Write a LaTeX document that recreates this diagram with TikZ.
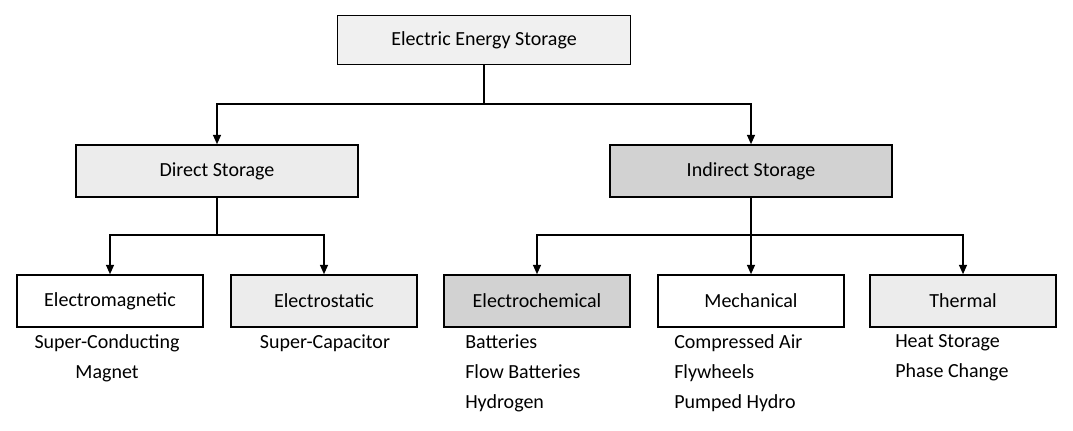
\documentclass[tikz,border=0pt]{standalone}
\usepackage{fontspec}
\setmainfont{Carlito}
\usetikzlibrary{arrows.meta,positioning}

\begin{document}
\begin{tikzpicture}[x=0.75pt,y=-0.75pt,font=\fontsize{15}{22.5}\selectfont,
  box/.style={draw, line width=1.2pt, fill=white, inner sep=0pt},
  root/.style={box, fill=gray!12, minimum width=219.75pt, minimum height=36.75pt},
  mid/.style={box, minimum width=211.5pt, minimum height=39pt},
  leaf/.style={box, minimum width=139.5pt, minimum height=39pt},
  light/.style={fill=gray!15},
  dark/.style={fill=gray!35},
  list/.style={anchor=north west, align=left, inner sep=0pt},
  arr/.style={-{Triangle[length=7pt,width=6pt]}, line width=1pt},
  line/.style={line width=1pt}]

\useasboundingbox (0,0) rectangle (1073,431);

\node[root] (ees) at (484,40) {Electric Energy Storage};

\node[mid, light] (direct) at (217,171) {Direct Storage};
\node[mid, dark] (indirect) at (751,171) {Indirect Storage};

\node[leaf] (emag) at (110,301) {Electromagnetic};
\node[leaf, light] (estat) at (324,301) {Electrostatic};
\node[leaf, dark] (echem) at (537,301) {Electrochemical};
\node[leaf] (mech) at (751,301) {Mechanical};
\node[leaf, light] (therm) at (963,301) {Thermal};

% items under the boxes
\node[align=center, anchor=north, inner sep=0pt] (emagtxt) at (107,334) {Super-Conducting\\Magnet};
\node[anchor=north, inner sep=0pt] (estattxt) at (325,334) {Super-Capacitor};
\node[list] (echemtxt) at (465,334) {Batteries\\Flow Batteries\\Hydrogen};
\node[list] (mechtxt) at (674,334) {Compressed Air\\Flywheels\\Pumped Hydro};
\node[list] (thermtxt) at (895,334) {Heat Storage\\Phase Change};

% connectors
\coordinate (j1) at (484,104);
\coordinate (j2) at (217,235);
\coordinate (j3) at (751,235);
\draw[line] (ees) -- (j1);
\draw[arr] (j1) -| (direct);
\draw[arr] (j1) -| (indirect);

\draw[line] (direct) -- (j2);
\draw[arr] (j2) -| (emag);
\draw[arr] (j2) -| (estat);

\draw[arr] (indirect) -- (mech);
\draw[arr] (j3) -| (echem);
\draw[arr] (j3) -| (therm);

\end{tikzpicture}
\end{document}
